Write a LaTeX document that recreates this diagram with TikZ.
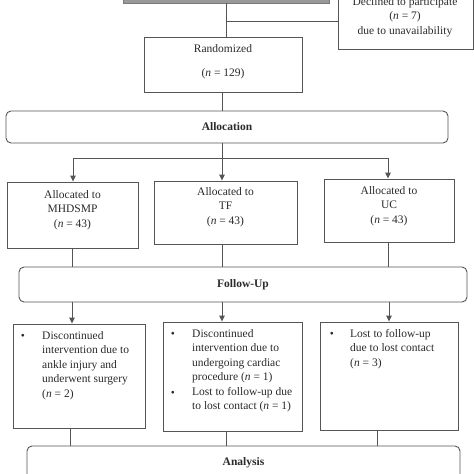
\documentclass[tikz,border=0pt]{standalone}
\usepackage{fontspec}
\setmainfont{Liberation Serif}
\usetikzlibrary{arrows.meta}
\definecolor{ln}{HTML}{555555}
\definecolor{tx}{HTML}{2A2A2A}
\begin{document}
\begin{tikzpicture}[x=1pt,y=-1pt,
  box/.style={draw=ln,line width=0.9pt,inner sep=0pt},
  stage/.style={box,rounded corners=5pt},
  txt/.style={text=tx,font=\fontsize{11.5}{14.5}\selectfont,align=center,inner sep=0pt},
  ltxt/.style={text=tx,font=\fontsize{11.5}{14.5}\selectfont,align=left,inner sep=0pt,anchor=north west},
  arr/.style={draw=ln,line width=0.9pt,-{Triangle[length=6pt,width=5.5pt]}},
  conn/.style={draw=ln,line width=0.9pt}]
\useasboundingbox (0,0) rectangle (474,474);
% top (cut) box
\node[box,fill=gray!80,draw=gray!95!black,minimum width=206pt,minimum height=16pt] (top) at (226,-5) {};
% declined
\node[box,minimum width=135pt,minimum height=70pt] (decl) at (405.5,14) {};
\node[txt] (decltxt) at (405,17) {Declined to participate\\(\textit{n} = 7)\\due to unavailability};
% randomized
\node[box,minimum width=158pt,minimum height=55pt] (rand) at (223,64.5) {};
\node[txt] (randtxt) at (223,61.5) {Randomized\\[9.5pt](\textit{n} = 129)};
\coordinate (j1) at (226,21);
\draw[conn] (226,0 |- top.south) -- (226,0 |- rand.north);
\draw[conn] (j1) -- (j1 -| decl.west);
% allocation
\node[stage,minimum width=442pt,minimum height=32pt,text=tx,font=\fontsize{11.5}{14.5}\selectfont\bfseries] (alloc) at (227,127) {Allocation};
\draw[conn] (222,0 |- rand.south) -- (222,0 |- alloc.north);
% allocated boxes
\node[box,minimum width=131pt,minimum height=66pt] (a1) at (72.5,215) {};
\node[box,minimum width=143pt,minimum height=63pt] (a2) at (225.5,212.5) {};
\node[box,minimum width=130pt,minimum height=63pt] (a3) at (389,210.5) {};
\node[txt] (a1t) at (72.5,210) {Allocated to\\MHDSMP\\(\textit{n} = 43)};
\node[txt] (a2t) at (225.5,207) {Allocated to\\TF\\(\textit{n} = 43)};
\node[txt] (a3t) at (389,206) {Allocated to\\UC\\(\textit{n} = 43)};
\coordinate (b1) at (73,158);
\coordinate (b3) at (388,158);
\draw[conn] (b1) -- (b3);
\draw[arr] (222,0 |- alloc.south) -- (222,0 |- a2.north);
\draw[arr] (b1) -- (b1 |- a1.north);
\draw[arr] (b3) -- (b3 |- a3.north);
% follow-up
\node[stage,minimum width=448pt,minimum height=35pt,text=tx,font=\fontsize{11.5}{14.5}\selectfont\bfseries] (fu) at (243,284.5) {Follow-Up};
\draw[conn] (72,0 |- a1.south) -- (72,0 |- fu.north);
\draw[conn] (222,0 |- a2.south) -- (222,0 |- fu.north);
\draw[conn] (388,0 |- a3.south) -- (388,0 |- fu.north);
% follow-up boxes
\node[box,minimum width=132pt,minimum height=104pt] (f1) at (79,376) {};
\node[box,minimum width=139pt,minimum height=109pt] (f2) at (232.5,376.5) {};
\node[box,minimum width=138pt,minimum height=108pt] (f3) at (389,376) {};
\draw[arr] (72,0 |- fu.south) -- (72,0 |- f1.north);
\draw[arr] (222,0 |- fu.south) -- (222,0 |- f2.north);
\draw[arr] (389,0 |- fu.south) -- (389,0 |- f3.north);
\node[txt] (f1b) at (23,337) {•};
\node[ltxt] (f1t) at (42,331) {Discontinued\\intervention due to\\ankle injury and\\underwent surgery\\(\textit{n} = 2)};
\node[txt] (f2b1) at (173,335) {•};
\node[txt] (f2b2) at (173,394) {•};
\node[ltxt] (f2t) at (192,329) {Discontinued\\intervention due to\\undergoing cardiac\\procedure (\textit{n} = 1)\\Lost to follow-up due\\to lost contact (\textit{n} = 1)};
\node[txt] (f3b) at (332,335) {•};
\node[ltxt] (f3t) at (350,329) {Lost to follow-up\\due to lost contact\\(\textit{n} = 3)};
% analysis
\node[stage,minimum width=433pt,minimum height=44pt] (an) at (243.5,468) {};
\node[text=tx,font=\fontsize{11.5}{14.5}\selectfont\bfseries,inner sep=0pt] (antxt) at (243.5,463) {Analysis};
\draw[conn] (70,0 |- f1.south) -- (70,0 |- an.north);
\draw[conn] (226,0 |- f2.south) -- (226,0 |- an.north);
\draw[conn] (377,0 |- f3.south) -- (377,0 |- an.north);
\end{tikzpicture}
\end{document}
